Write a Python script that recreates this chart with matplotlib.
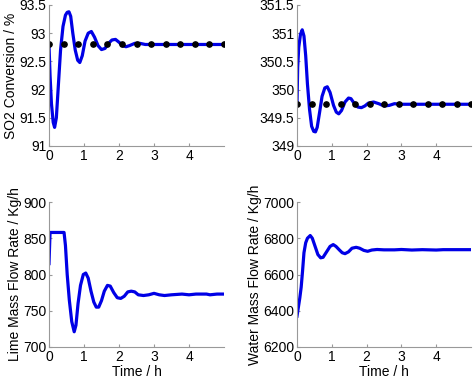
import matplotlib
matplotlib.use('Agg')
import matplotlib.pyplot as plt
import numpy as np

# values
so2_t = [0, 0.03, 0.07, 0.12, 0.16, 0.21, 0.27, 0.33, 0.40, 0.47, 0.52, 0.57, 0.62, 0.68,
         0.75, 0.82, 0.88, 0.95, 1.03, 1.12, 1.21, 1.30, 1.40, 1.50, 1.60, 1.70, 1.80, 1.90,
         2.00, 2.10, 2.20, 2.30, 2.45, 2.60, 2.75, 3.0, 5.0]
so2_v = [92.8, 92.25, 91.75, 91.42, 91.33, 91.5, 92.1, 92.7, 93.12, 93.32, 93.37, 93.38, 93.3, 93.0,
         92.7, 92.52, 92.48, 92.6, 92.86, 93.0, 93.03, 92.93, 92.78, 92.71, 92.73, 92.82, 92.88, 92.89,
         92.84, 92.78, 92.76, 92.78, 92.82, 92.82, 92.8, 92.8, 92.8]
so2_set = 92.8

temp_t = [0, 0.02, 0.05, 0.10, 0.15, 0.20, 0.25, 0.30, 0.36, 0.42, 0.48, 0.53, 0.58, 0.65,
          0.72, 0.80, 0.87, 0.95, 1.05, 1.13, 1.20, 1.28, 1.38, 1.48, 1.55, 1.65, 1.75, 1.85,
          1.95, 2.05, 2.20, 2.35, 2.50, 2.65, 2.80, 3.0, 5.0]
temp_v = [349.74, 350.4, 350.75, 350.98, 351.06, 350.95, 350.6, 350.1, 349.65, 349.35, 349.26, 349.25, 349.33, 349.6,
          349.88, 350.03, 350.05, 349.95, 349.72, 349.6, 349.57, 349.63, 349.78, 349.85, 349.84, 349.75, 349.69, 349.68,
          349.71, 349.76, 349.78, 349.75, 349.71, 349.72, 349.75, 349.74, 349.74]
temp_set = 349.74

lime_t = [0, 0.03, 0.43, 0.47, 0.52, 0.58, 0.65, 0.72, 0.77, 0.83, 0.90, 0.98, 1.05, 1.12,
          1.20, 1.28, 1.35, 1.42, 1.50, 1.58, 1.67, 1.75, 1.85, 1.95, 2.05, 2.15, 2.25, 2.35,
          2.45, 2.55, 2.70, 2.85, 3.0, 3.15, 3.3, 3.5, 3.8, 4.0, 4.2, 4.5, 4.6, 4.8, 5.0]
lime_v = [815, 858, 858, 840, 800, 765, 735, 721, 730, 760, 785, 800, 802, 795,
          777, 762, 755, 755, 764, 777, 785, 784, 775, 768, 767, 770, 776, 777,
          776, 772, 771, 772, 774, 772, 771, 772, 773, 772, 773, 773, 772, 773, 773]

water_t = [0, 0.04, 0.08, 0.12, 0.16, 0.20, 0.25, 0.30, 0.38, 0.44, 0.52, 0.60, 0.68, 0.75,
           0.85, 0.95, 1.04, 1.12, 1.22, 1.30, 1.38, 1.48, 1.58, 1.70, 1.80, 1.92, 2.03, 2.15,
           2.30, 2.50, 2.80, 3.0, 3.3, 3.6, 4.0, 4.2, 5.0]
water_v = [6370, 6420, 6470, 6530, 6620, 6720, 6775, 6800, 6815, 6800, 6755, 6710, 6692, 6695,
           6725, 6755, 6765, 6755, 6735, 6720, 6715, 6725, 6745, 6750, 6745, 6733, 6728, 6735,
           6738, 6736, 6736, 6738, 6735, 6737, 6735, 6737, 6737]

set_t = np.linspace(0, 5, 13)

plt.rcParams['font.family'] = ['Liberation Sans', 'DejaVu Sans']
plt.rcParams['font.size'] = 10

fig = plt.figure(figsize=(4.74, 3.78), dpi=100)

W, H = 474.0, 378.0
def make_ax(x0, x1, ytop, ybot):
    ax = fig.add_axes([x0/W, 1 - ybot/H, (x1 - x0)/W, (ybot - ytop)/H])
    for s in ['top', 'right']:
        ax.spines[s].set_visible(False)
    for s in ['left', 'bottom']:
        ax.spines[s].set_color('#999999')
        ax.spines[s].set_linewidth(0.8)
    ax.tick_params(direction='in', length=2, color='#999999', labelsize=10, pad=2)
    ax.set_xlim(0, 5)
    ax.set_xticks([0, 1, 2, 3, 4])
    return ax

blue = '#0000e6'

ax1 = make_ax(49, 224, 5, 146)
ax1.plot(so2_t, so2_v, color=blue, lw=2.3, solid_joinstyle='round')
ax1.plot(set_t, [so2_set]*len(set_t), 'o', color='black', ms=3.8)
ax1.set_ylim(91, 93.5)
ax1.set_yticks([91, 91.5, 92, 92.5, 93, 93.5])
ax1.set_yticklabels(['91', '91.5', '92', '92.5', '93', '93.5'])
ax1.set_ylabel('SO2 Conversion / %', labelpad=1)

ax2 = make_ax(297, 471, 5, 146)
ax2.plot(temp_t, temp_v, color=blue, lw=2.3, solid_joinstyle='round')
ax2.plot(set_t, [temp_set]*len(set_t), 'o', color='black', ms=3.8)
ax2.set_ylim(349, 351.5)
ax2.set_yticks([349, 349.5, 350, 350.5, 351, 351.5])
ax2.set_yticklabels(['349', '349.5', '350', '350.5', '351', '351.5'])

ax3 = make_ax(49, 224, 202, 347)
ax3.plot(lime_t, lime_v, color=blue, lw=2.3, solid_joinstyle='round')
ax3.set_ylim(700, 900)
ax3.set_yticks([700, 750, 800, 850, 900])
ax3.set_ylabel('Lime Mass Flow Rate / Kg/h', labelpad=1)
ax3.set_xlabel('Time / h', labelpad=1)

ax4 = make_ax(297, 471, 202, 347)
ax4.plot(water_t, water_v, color=blue, lw=2.3, solid_joinstyle='round')
ax4.set_ylim(6200, 7000)
ax4.set_yticks([6200, 6400, 6600, 6800, 7000])
ax4.set_ylabel('Water Mass Flow Rate / Kg/h', labelpad=1)
ax4.set_xlabel('Time / h', labelpad=1)

fig.savefig('out.png', dpi=100)
